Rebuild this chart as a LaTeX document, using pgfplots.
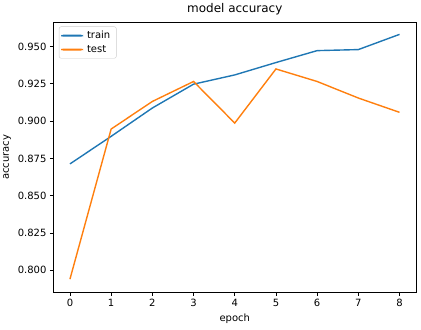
\documentclass[border=0pt]{standalone}
\usepackage{fontspec}
\setmainfont{DejaVu Sans}
\usepackage{pgfplots}
\pgfplotsset{compat=1.18}
\definecolor{mblue}{HTML}{1F77B4}
\definecolor{morange}{HTML}{FF7F0E}
\begin{document}
\begin{tikzpicture}
\begin{axis}[
  scale only axis,
  width=363pt, height=270pt,
  xmin=-0.4, xmax=8.4,
  ymin=0.7853, ymax=0.9662,
  xtick={0,1,2,3,4,5,6,7,8},
  ytick={0.8,0.825,0.85,0.875,0.9,0.925,0.95},
  /pgf/number format/assume math mode=true,
  yticklabel style={/pgf/number format/.cd, fixed, fixed zerofill, precision=3},
  tick label style={font=\fontsize{10}{12}\selectfont},
  tick align=outside,
  major tick length=3.5pt,
  xtick pos=bottom, ytick pos=left,
  axis line style={line width=0.8pt},
  every tick/.style={black, line width=0.8pt},
  title={model accuracy},
  title style={font=\fontsize{12}{14}\selectfont, yshift=-2pt},
  xlabel={epoch}, ylabel={accuracy},
  label style={font=\fontsize{10}{12}\selectfont},
  legend cell align=left,
  legend image code/.code={\fill[#1, draw=none] (0pt,-1pt) rectangle (22pt,1pt);},
  legend style={font=\fontsize{10}{12}\selectfont, draw=black!20, rounded corners=2pt,
    at={(0.015,0.985)}, anchor=north west, inner xsep=2pt, inner ysep=2pt,
    nodes={inner ysep=2.5pt, inner xsep=4pt}},
]
\addplot[mblue, line width=1.4pt] coordinates {
 (0,0.8713) (1,0.8898) (2,0.9088) (3,0.9248) (4,0.9310) (5,0.9393) (6,0.9473) (7,0.9480) (8,0.9582)};
\addlegendentry{train}
\addplot[morange, line width=1.4pt] coordinates {
 (0,0.7940) (1,0.8947) (2,0.9132) (3,0.9266) (4,0.8987) (5,0.9350) (6,0.9266) (7,0.9155) (8,0.9059)};
\addlegendentry{test}
\end{axis}
\path ([xshift=-53pt,yshift=-37pt]current axis.south west) rectangle ([xshift=5pt,yshift=19pt]current axis.north east);
\end{tikzpicture}
\end{document}
